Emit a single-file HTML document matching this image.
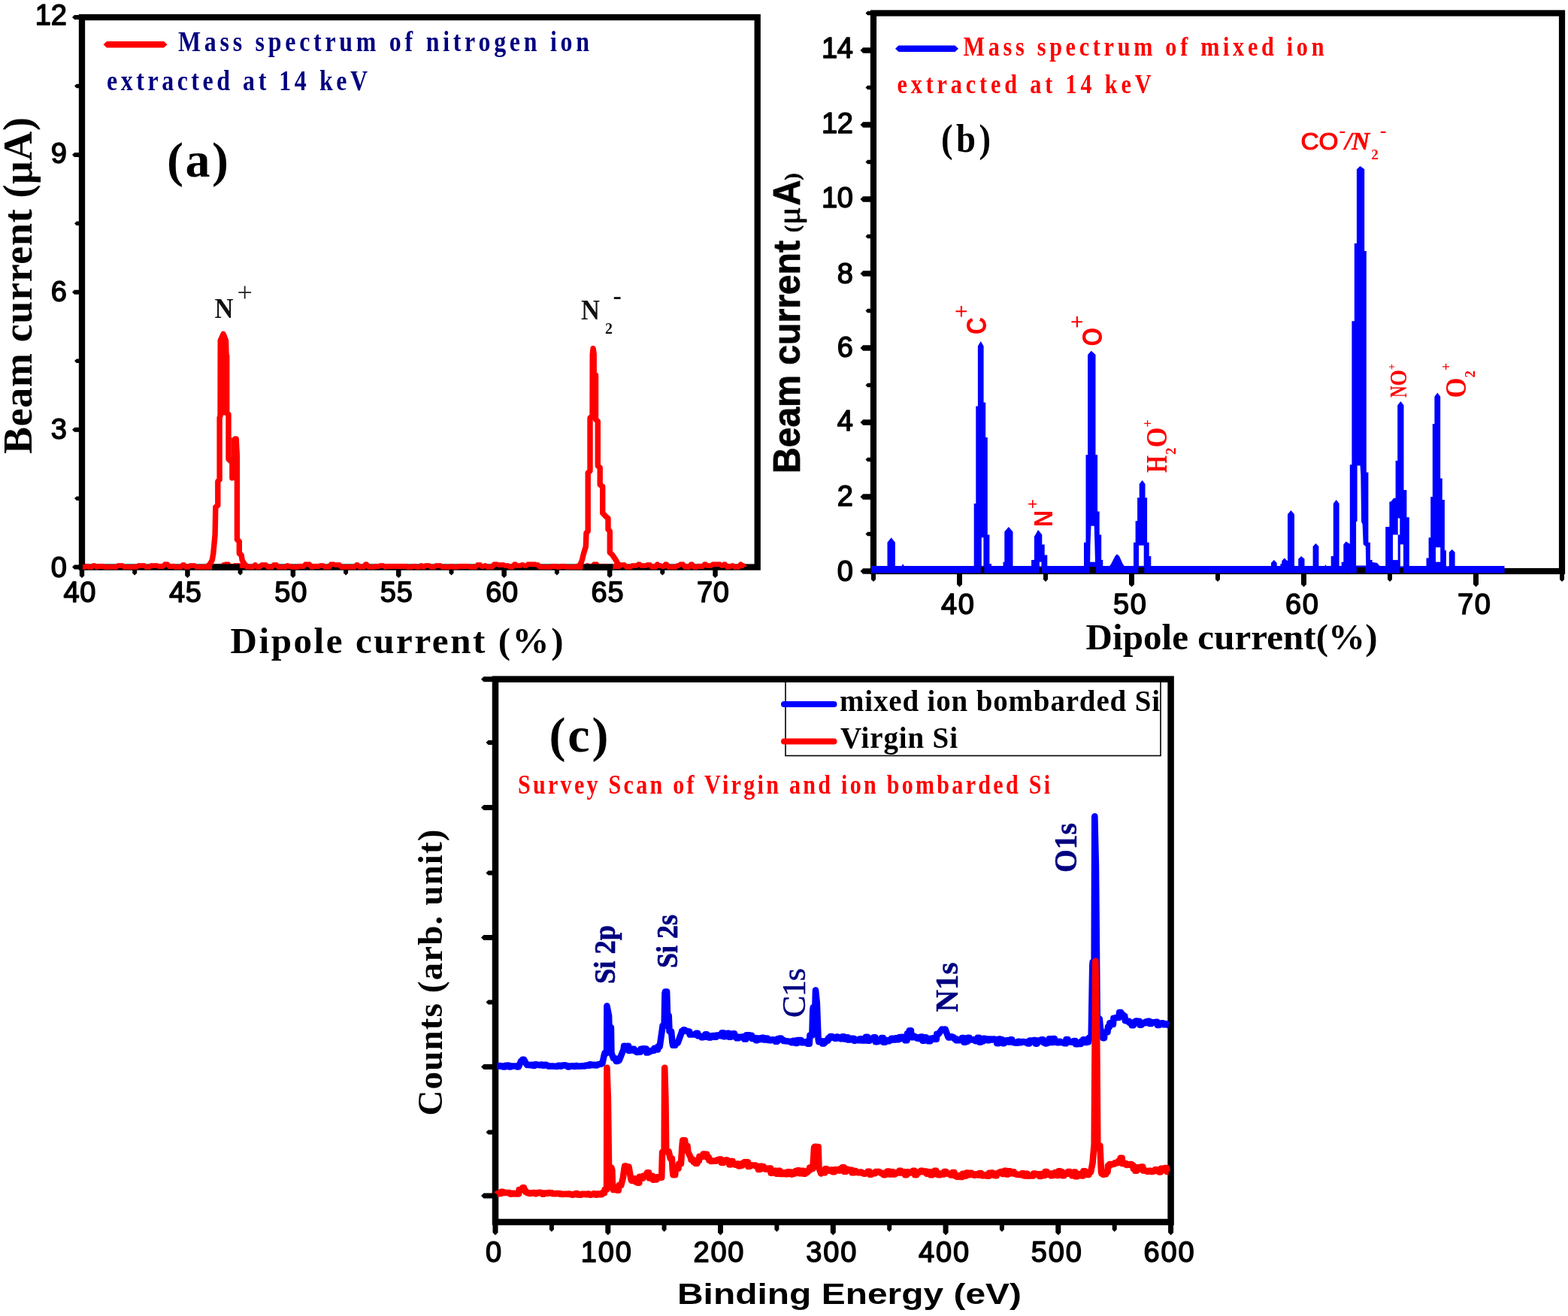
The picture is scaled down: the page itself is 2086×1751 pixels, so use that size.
<!DOCTYPE html>
<html lang="en"><head><meta charset="utf-8"><title>Mass spectra and XPS survey scan</title>
<style>html,body{margin:0;padding:0;background:#fff}svg{display:block}text{white-space:pre}</style></head>
<body>
<svg width="2086" height="1751" viewBox="0 0 2086 1751">
<rect x="0" y="0" width="2086" height="1751" fill="#fff"/>
<g id="panel-a">
<polygon points="109,751.6 99,751.6 96,754.6 99,757.6 109,757.6" fill="#000000"/>
<text x="89" y="768.1" font-family='"Liberation Sans","DejaVu Sans",sans-serif' font-size="38" font-weight="normal" fill="#000000" text-anchor="end" stroke="#000000" stroke-width="1.5" stroke-linejoin="round">0</text>
<polygon points="109,568.7 99,568.7 96,571.7 99,574.7 109,574.7" fill="#000000"/>
<text x="89" y="584.3" font-family='"Liberation Sans","DejaVu Sans",sans-serif' font-size="38" font-weight="normal" fill="#000000" text-anchor="end" stroke="#000000" stroke-width="1.5" stroke-linejoin="round">3</text>
<polygon points="109,385.8 99,385.8 96,388.8 99,391.8 109,391.8" fill="#000000"/>
<text x="89" y="400.5" font-family='"Liberation Sans","DejaVu Sans",sans-serif' font-size="38" font-weight="normal" fill="#000000" text-anchor="end" stroke="#000000" stroke-width="1.5" stroke-linejoin="round">6</text>
<polygon points="109,202.9 99,202.9 96,205.9 99,208.9 109,208.9" fill="#000000"/>
<text x="89" y="216.7" font-family='"Liberation Sans","DejaVu Sans",sans-serif' font-size="38" font-weight="normal" fill="#000000" text-anchor="end" stroke="#000000" stroke-width="1.5" stroke-linejoin="round">9</text>
<polygon points="109,20 99,20 96,23 99,26 109,26" fill="#000000"/>
<text x="89" y="32.9" font-family='"Liberation Sans","DejaVu Sans",sans-serif' font-size="38" font-weight="normal" fill="#000000" text-anchor="end" stroke="#000000" stroke-width="1.5" stroke-linejoin="round">12</text>
<polygon points="109,660.4 101.8,660.4 99,663.1 101.8,665.9 109,665.9" fill="#000000"/>
<polygon points="109,477.5 101.8,477.5 99,480.2 101.8,483 109,483" fill="#000000"/>
<polygon points="109,294.6 101.8,294.6 99,297.4 101.8,300.1 109,300.1" fill="#000000"/>
<polygon points="109,111.7 101.8,111.7 99,114.5 101.8,117.2 109,117.2" fill="#000000"/>
<polygon points="105.8,754.6 105.8,765.9 109,769.1 112.2,765.9 112.2,754.6" fill="#000000"/>
<text x="106" y="801" font-family='"Liberation Sans","DejaVu Sans",sans-serif' font-size="38" font-weight="normal" fill="#000000" text-anchor="middle" textLength="43" lengthAdjust="spacing" stroke="#000000" stroke-width="1.5" stroke-linejoin="round">40</text>
<polygon points="246.2,754.6 246.2,765.9 249.4,769.1 252.7,765.9 252.7,754.6" fill="#000000"/>
<text x="246.4" y="801" font-family='"Liberation Sans","DejaVu Sans",sans-serif' font-size="38" font-weight="normal" fill="#000000" text-anchor="middle" textLength="43" lengthAdjust="spacing" stroke="#000000" stroke-width="1.5" stroke-linejoin="round">45</text>
<polygon points="386.6,754.6 386.6,765.9 389.8,769.1 393.1,765.9 393.1,754.6" fill="#000000"/>
<text x="386.8" y="801" font-family='"Liberation Sans","DejaVu Sans",sans-serif' font-size="38" font-weight="normal" fill="#000000" text-anchor="middle" textLength="43" lengthAdjust="spacing" stroke="#000000" stroke-width="1.5" stroke-linejoin="round">50</text>
<polygon points="527,754.6 527,765.9 530.3,769.1 533.5,765.9 533.5,754.6" fill="#000000"/>
<text x="527.3" y="801" font-family='"Liberation Sans","DejaVu Sans",sans-serif' font-size="38" font-weight="normal" fill="#000000" text-anchor="middle" textLength="43" lengthAdjust="spacing" stroke="#000000" stroke-width="1.5" stroke-linejoin="round">55</text>
<polygon points="667.4,754.6 667.4,765.9 670.7,769.1 673.9,765.9 673.9,754.6" fill="#000000"/>
<text x="667.7" y="801" font-family='"Liberation Sans","DejaVu Sans",sans-serif' font-size="38" font-weight="normal" fill="#000000" text-anchor="middle" textLength="43" lengthAdjust="spacing" stroke="#000000" stroke-width="1.5" stroke-linejoin="round">60</text>
<polygon points="807.9,754.6 807.9,765.9 811.1,769.1 814.4,765.9 814.4,754.6" fill="#000000"/>
<text x="808.1" y="801" font-family='"Liberation Sans","DejaVu Sans",sans-serif' font-size="38" font-weight="normal" fill="#000000" text-anchor="middle" textLength="43" lengthAdjust="spacing" stroke="#000000" stroke-width="1.5" stroke-linejoin="round">65</text>
<polygon points="948.3,754.6 948.3,765.9 951.5,769.1 954.8,765.9 954.8,754.6" fill="#000000"/>
<text x="948.5" y="801" font-family='"Liberation Sans","DejaVu Sans",sans-serif' font-size="38" font-weight="normal" fill="#000000" text-anchor="middle" textLength="43" lengthAdjust="spacing" stroke="#000000" stroke-width="1.5" stroke-linejoin="round">70</text>
<polygon points="176.2,754.6 176.2,762.6 179.2,765.6 182.2,762.6 182.2,754.6" fill="#000000"/>
<polygon points="316.6,754.6 316.6,762.6 319.6,765.6 322.6,762.6 322.6,754.6" fill="#000000"/>
<polygon points="457.1,754.6 457.1,762.6 460.1,765.6 463.1,762.6 463.1,754.6" fill="#000000"/>
<polygon points="597.5,754.6 597.5,762.6 600.5,765.6 603.5,762.6 603.5,754.6" fill="#000000"/>
<polygon points="737.9,754.6 737.9,762.6 740.9,765.6 743.9,762.6 743.9,754.6" fill="#000000"/>
<polygon points="878.3,754.6 878.3,762.6 881.3,765.6 884.3,762.6 884.3,754.6" fill="#000000"/>
<rect x="109" y="23" width="898.7" height="731.6" fill="none" stroke="#000000" stroke-width="8.3"/>
<polyline points="110,754.3 110,754.3 114,754.3 114,753.5 117,753.5 117,754.3 120,754.3 120,754.3 123,754.3 123,752.7 127,752.7 127,754.3 130,754.3 130,753.5 138,753.5 138,754.3 142,754.3 142,754.3 150,754.3 150,754.3 153,754.3 153,754.3 156,754.3 156,752.7 164,752.7 164,754.3 168,754.3 168,754.3 172,754.3 172,754.3 180,754.3 180,754.3 183,754.3 183,752.7 189,752.7 189,752.7 193,752.7 193,754.3 197,754.3 197,754.3 200,754.3 200,752.7 203,752.7 203,752.7 206,752.7 206,752.7 210,752.7 210,753.5 218,753.5 218,750.9 224,750.9 224,753.5 232,753.5 232,754.3 238,754.3 238,754.3 242,754.3 242,751.7 246,751.7 246,754.3 252,754.3 252,752.7 260,752.7 260,754.3 268,754.3 268,754.3 271,754.3 271,754.3 279,754.3 279,754.3 285,754.3 285,754.3 293,754.3 293,753.5 296,753.5 296,751.7 299,751.7 299,750.9 305,750.9 305,754.3 311,754.3 311,752.7 319,752.7 319,752.7 327,752.7 327,754.3 330,754.3 330,754.3 338,754.3 338,751.7 341,751.7 341,754.3 347,754.3 347,751.7 355,751.7 355,754.3 363,754.3 363,751.7 369,751.7 369,754.3 377,754.3 377,754.3 381,754.3 381,752.7 384,752.7 384,753.5 387,753.5 387,754.3 393,754.3 393,754.3 397,754.3 397,753.5 405,753.5 405,750.9 413,750.9 413,754.3 417,754.3 417,753.5 425,753.5 425,752.7 431,752.7 431,754.3 439,754.3 439,750.9 445,750.9 445,751.7 453,751.7 453,754.3 461,754.3 461,754.3 465,754.3 465,754.3 469,754.3 469,754.3 473,754.3 473,751.7 477,751.7 477,754.3 485,754.3 485,750.9 489,750.9 489,754.3 495,754.3 495,754.3 499,754.3 499,753.5 505,753.5 505,752.7 511,752.7 511,754.3 514,754.3 514,753.5 522,753.5 522,753.5 530,753.5 530,753.5 533,753.5 533,753.5 541,753.5 541,754.3 545,754.3 545,754.3 549,754.3 549,753.5 553,753.5 553,754.3 559,754.3 559,752.7 562,752.7 562,754.3 565,754.3 565,752.7 569,752.7 569,752.7 572,752.7 572,754.3 575,754.3 575,754.3 579,754.3 579,752.7 587,752.7 587,754.3 593,754.3 593,754.3 599,754.3 599,753.5 602,753.5 602,754.3 610,754.3 610,753.5 618,753.5 618,753.5 624,753.5 624,754.3 628,754.3 628,754.3 634,754.3 634,751.7 640,751.7 640,753.5 644,753.5 644,752.7 647,752.7 647,754.3 653,754.3 653,754.3 656,754.3 656,750.9 662,750.9 662,751.7 665,751.7 665,751.7 671,751.7 671,752.7 677,752.7 677,754.3 683,754.3 683,750.9 687,750.9 687,752.7 693,752.7 693,751.7 697,751.7 697,752.7 701,752.7 701,750.9 705,750.9 705,750.9 713,750.9 713,751.7 717,751.7 717,754.3 725,754.3 725,754.3 728,754.3 728,754.3 734,754.3 734,753.5 740,753.5 740,754.3 746,754.3 746,753.5 752,753.5 752,754.3 755,754.3 755,754.3 758,754.3 758,754.3 766,754.3 766,754.3 772,754.3 772,754.3 780,754.3 780,752.7 783,752.7 783,753.5 789,753.5 789,750.9 792,750.9 792,750.9 795,750.9 795,753.5 799,753.5 799,753.5 803,753.5 803,753.5 809,753.5 809,754.3 817,754.3 817,753.5 825,753.5 825,751.7 828,751.7 828,751.7 832,751.7 832,754.3 836,754.3 836,754.3 840,754.3 840,752.7 848,752.7 848,750.9 852,750.9 852,752.7 860,752.7 860,751.7 866,751.7 866,754.3 870,754.3 870,754.3 873,754.3 873,750.9 876,750.9 876,752.7 880,752.7 880,753.5 884,753.5 884,750.9 888,750.9 888,754.3 894,754.3 894,754.3 900,754.3 900,752.7 904,752.7 904,750.9 910,750.9 910,754.3 918,754.3 918,750.9 922,750.9 922,754.3 928,754.3 928,753.5 936,753.5 936,750.9 940,750.9 940,752.7 944,752.7 944,752.7 947,752.7 947,750.9 955,750.9 955,750.9 959,750.9 959,752.7 962,752.7 962,750.9 966,750.9 966,754.3 970,754.3 970,753.5 973,753.5 973,752.7 976,752.7 976,754.3 984,754.3 984,750.9 987,750.9 987,752.7 990,752.7 990,754.3" fill="none" stroke="#ff0000" stroke-width="6.8" stroke-linejoin="bevel" stroke-linecap="butt"/>
<line x1="282.2" y1="754.6" x2="318.8" y2="754.6" stroke="#000000" stroke-width="8.3" stroke-linecap="butt"/>
<line x1="775.4" y1="754.6" x2="815.4" y2="754.6" stroke="#000000" stroke-width="8.3" stroke-linecap="butt"/>
<polyline points="274.3,754.7 278.8,751.3 282.2,745.5 283.8,736.4 286.1,711.3 286.8,674.7 289.8,672.4 289.8,640.5 292.1,638.2 292.1,555.9 293,553.6 293.2,453.1 297.1,444.4 300.5,453.1 301,471.4 301.7,473.7 301.7,549.1 304,551.4 304,610.8 307.4,614.2 309,615.3 309,635.9 311.5,608.5 313.1,584 314.2,584 315.4,608.5 315.4,718.1 318.3,720.4 318.3,736.4 321.1,738.7 322.2,745.5 325.7,751.3 330.2,754.7" fill="none" stroke="#ff0000" stroke-width="7.4" stroke-linejoin="round" stroke-linecap="butt"/>
<polygon points="307.4,582.2 317,582.2 318.8,608.5 318.8,638.2 305.6,638.2 305.6,614.2 307.4,610.8" fill="#ff0000"/>
<polyline points="297.1,448.5 297.6,552.5" fill="none" stroke="#ff0000" stroke-width="7.4" stroke-linejoin="round" stroke-linecap="butt"/>
<polyline points="767.4,754.7 772,751.3 774.3,745.5 776.5,736.4 779.3,727.3 780,709 782.2,706.7 782.2,629 785,626.7 785,555.9 788,553.6 788.2,471.4 789.1,463.6 790.2,471.4 790.2,496.5 792.5,498.8 792.5,558.2 795.3,560.5 795.3,619.9 798.2,622.2 798.2,645 801.7,647.3 801.7,682.7 806.2,687.3 809,689.6 809,704.4 811.3,706.7 811.3,735.3 814.2,737.6 818.8,744.4 822.7,751.3 826.8,754.7" fill="none" stroke="#ff0000" stroke-width="7.4" stroke-linejoin="round" stroke-linecap="butt"/>
<polygon points="137.5,59.3 142,55 218,55 222.5,59.3 218,63.6 142,63.6" fill="#ff0000"/>
<text transform="translate(237,68) scale(0.840,1)" font-family='"Liberation Serif","DejaVu Serif",serif' font-size="38" font-weight="bold" fill="#000080" text-anchor="start" textLength="651.2" lengthAdjust="spacing">Mass spectrum of nitrogen ion</text>
<text transform="translate(142,119.7) scale(0.840,1)" font-family='"Liberation Serif","DejaVu Serif",serif' font-size="38" font-weight="bold" fill="#000080" text-anchor="start" textLength="413.1" lengthAdjust="spacing">extracted at 14 keV</text>
<text x="222" y="234.5" font-family='"Liberation Serif","DejaVu Serif",serif' font-size="66" font-weight="bold" fill="#000000" text-anchor="start" textLength="82" lengthAdjust="spacing">(a)</text>
<text x="285.5" y="423.3" font-family='"Liberation Serif","DejaVu Serif",serif' font-size="38" font-weight="bold" fill="#111" text-anchor="start" textLength="25" lengthAdjust="spacingAndGlyphs">N</text>
<text x="315.5" y="401" font-family='"Liberation Serif","DejaVu Serif",serif' font-size="36" font-weight="normal" fill="#222" text-anchor="start">+</text>
<text x="773" y="425" font-family='"Liberation Serif","DejaVu Serif",serif' font-size="38" font-weight="bold" fill="#111" text-anchor="start" textLength="25" lengthAdjust="spacingAndGlyphs">N</text>
<text x="805" y="443.5" font-family='"Liberation Serif","DejaVu Serif",serif' font-size="20" font-weight="bold" fill="#111" text-anchor="start">2</text>
<text x="815.5" y="405" font-family='"Liberation Serif","DejaVu Serif",serif' font-size="34" font-weight="bold" fill="#111" text-anchor="start">-</text>
<text transform="translate(41.5,604) rotate(-90)" font-family='"Liberation Serif","DejaVu Serif",serif' font-size="54" font-weight="bold" fill="#000000" text-anchor="start" textLength="448" lengthAdjust="spacing">Beam current (μA)</text>
<text x="306.5" y="869" font-family='"Liberation Serif","DejaVu Serif",serif' font-size="49" font-weight="bold" fill="#000000" text-anchor="start" textLength="443" lengthAdjust="spacing">Dipole current (%)</text>
</g>
<g id="panel-b">
<polygon points="1162,756.2 1148.2,756.2 1144.5,760 1148.2,763.8 1162,763.8" fill="#000000"/>
<text x="1135" y="772.8" font-family='"Liberation Sans","DejaVu Sans",sans-serif' font-size="38" font-weight="normal" fill="#000000" text-anchor="end" stroke="#000000" stroke-width="1.5" stroke-linejoin="round">0</text>
<polygon points="1162,657.2 1148.2,657.2 1144.5,661 1148.2,664.8 1162,664.8" fill="#000000"/>
<text x="1135" y="673.3" font-family='"Liberation Sans","DejaVu Sans",sans-serif' font-size="38" font-weight="normal" fill="#000000" text-anchor="end" stroke="#000000" stroke-width="1.5" stroke-linejoin="round">2</text>
<polygon points="1162,558.2 1148.2,558.2 1144.5,562 1148.2,565.8 1162,565.8" fill="#000000"/>
<text x="1135" y="572.8" font-family='"Liberation Sans","DejaVu Sans",sans-serif' font-size="38" font-weight="normal" fill="#000000" text-anchor="end" stroke="#000000" stroke-width="1.5" stroke-linejoin="round">4</text>
<polygon points="1162,459.2 1148.2,459.2 1144.5,463 1148.2,466.8 1162,466.8" fill="#000000"/>
<text x="1135" y="475.3" font-family='"Liberation Sans","DejaVu Sans",sans-serif' font-size="38" font-weight="normal" fill="#000000" text-anchor="end" stroke="#000000" stroke-width="1.5" stroke-linejoin="round">6</text>
<polygon points="1162,360.2 1148.2,360.2 1144.5,364 1148.2,367.8 1162,367.8" fill="#000000"/>
<text x="1135" y="376.8" font-family='"Liberation Sans","DejaVu Sans",sans-serif' font-size="38" font-weight="normal" fill="#000000" text-anchor="end" stroke="#000000" stroke-width="1.5" stroke-linejoin="round">8</text>
<polygon points="1162,261.2 1148.2,261.2 1144.5,265 1148.2,268.8 1162,268.8" fill="#000000"/>
<text x="1135" y="275.8" font-family='"Liberation Sans","DejaVu Sans",sans-serif' font-size="38" font-weight="normal" fill="#000000" text-anchor="end" textLength="42" lengthAdjust="spacing" stroke="#000000" stroke-width="1.5" stroke-linejoin="round">10</text>
<polygon points="1162,162.2 1148.2,162.2 1144.5,166 1148.2,169.8 1162,169.8" fill="#000000"/>
<text x="1135" y="177.3" font-family='"Liberation Sans","DejaVu Sans",sans-serif' font-size="38" font-weight="normal" fill="#000000" text-anchor="end" textLength="42" lengthAdjust="spacing" stroke="#000000" stroke-width="1.5" stroke-linejoin="round">12</text>
<polygon points="1162,63.2 1148.2,63.2 1144.5,67 1148.2,70.8 1162,70.8" fill="#000000"/>
<text x="1135" y="76.8" font-family='"Liberation Sans","DejaVu Sans",sans-serif' font-size="38" font-weight="normal" fill="#000000" text-anchor="end" textLength="42" lengthAdjust="spacing" stroke="#000000" stroke-width="1.5" stroke-linejoin="round">14</text>
<polygon points="1162,707.8 1154.2,707.8 1151.5,710.5 1154.2,713.2 1162,713.2" fill="#000000"/>
<polygon points="1162,608.8 1154.2,608.8 1151.5,611.5 1154.2,614.2 1162,614.2" fill="#000000"/>
<polygon points="1162,509.8 1154.2,509.8 1151.5,512.5 1154.2,515.2 1162,515.2" fill="#000000"/>
<polygon points="1162,410.8 1154.2,410.8 1151.5,413.5 1154.2,416.2 1162,416.2" fill="#000000"/>
<polygon points="1162,311.8 1154.2,311.8 1151.5,314.5 1154.2,317.2 1162,317.2" fill="#000000"/>
<polygon points="1162,212.8 1154.2,212.8 1151.5,215.5 1154.2,218.2 1162,218.2" fill="#000000"/>
<polygon points="1162,113.8 1154.2,113.8 1151.5,116.5 1154.2,119.2 1162,119.2" fill="#000000"/>
<polygon points="1162,14.8 1154.2,14.8 1151.5,17.5 1154.2,20.2 1162,20.2" fill="#000000"/>
<polygon points="1273,760 1273,777.5 1276.5,781 1280,777.5 1280,760" fill="#000000"/>
<text x="1274" y="816.5" font-family='"Liberation Sans","DejaVu Sans",sans-serif' font-size="38" font-weight="normal" fill="#000000" text-anchor="middle" textLength="44" lengthAdjust="spacing" stroke="#000000" stroke-width="1.5" stroke-linejoin="round">40</text>
<polygon points="1502,760 1502,777.5 1505.5,781 1509,777.5 1509,760" fill="#000000"/>
<text x="1503" y="816.5" font-family='"Liberation Sans","DejaVu Sans",sans-serif' font-size="38" font-weight="normal" fill="#000000" text-anchor="middle" textLength="44" lengthAdjust="spacing" stroke="#000000" stroke-width="1.5" stroke-linejoin="round">50</text>
<polygon points="1731,760 1731,777.5 1734.5,781 1738,777.5 1738,760" fill="#000000"/>
<text x="1732" y="816.5" font-family='"Liberation Sans","DejaVu Sans",sans-serif' font-size="38" font-weight="normal" fill="#000000" text-anchor="middle" textLength="44" lengthAdjust="spacing" stroke="#000000" stroke-width="1.5" stroke-linejoin="round">60</text>
<polygon points="1960,760 1960,777.5 1963.5,781 1967,777.5 1967,760" fill="#000000"/>
<text x="1961" y="816.5" font-family='"Liberation Sans","DejaVu Sans",sans-serif' font-size="38" font-weight="normal" fill="#000000" text-anchor="middle" textLength="44" lengthAdjust="spacing" stroke="#000000" stroke-width="1.5" stroke-linejoin="round">70</text>
<polygon points="1159,760 1159,771 1162,774 1165,771 1165,760" fill="#000000"/>
<polygon points="1388,760 1388,771 1391,774 1394,771 1394,760" fill="#000000"/>
<polygon points="1617,760 1617,771 1620,774 1623,771 1623,760" fill="#000000"/>
<polygon points="1846,760 1846,771 1849,774 1852,771 1852,760" fill="#000000"/>
<polygon points="2075,760 2075,771 2078,774 2081,771 2081,760" fill="#000000"/>
<rect x="1162" y="17.5" width="916" height="742.5" fill="none" stroke="#000000" stroke-width="8.2"/>
<line x1="1159" y1="757.7" x2="2001.5" y2="757.7" stroke="#0000ff" stroke-width="9.6" stroke-linecap="butt"/>
<polygon points="1180.5,759.3 1180.5,721.8 1185.7,715.3 1190.9,721.8 1190.9,759.3" fill="#0000ff"/>
<polygon points="1196,759.3 1201.2,750.3 1206.4,759.3" fill="#0000ff"/>
<polygon points="1295.7,759.3 1295.7,670 1298.3,670 1298.3,540.6 1300.9,540.6 1300.9,460.4 1304.8,453.9 1308.6,460.4 1308.6,535.4 1311.2,535.4 1311.2,582 1313.8,582 1313.8,711.5 1316.4,711.5 1316.4,750.3 1319,750.3 1319,759.3" fill="#0000ff"/>
<polygon points="1334.5,759.3 1334.5,747.7 1336.3,747.7 1336.3,707.6 1341.8,701.1 1347.5,707.6 1347.5,759.3" fill="#0000ff"/>
<polygon points="1372.1,759.3 1372.1,745.1 1375.9,745.1 1375.9,714 1381.1,705 1386.3,711.5 1386.3,724.4 1389.7,724.4 1389.7,738.6 1393.3,738.6 1393.3,759.3" fill="#0000ff"/>
<polygon points="1442,759.3 1442,721.8 1444.5,721.8 1444.5,605.3 1447.1,605.3 1447.1,472 1451.8,466.8 1457.5,472 1457.5,605.3 1460.1,605.3 1460.1,680.4 1462.7,680.4 1462.7,711.5 1465.2,711.5 1465.2,745.1 1467.3,745.1 1467.3,759.3" fill="#0000ff"/>
<polygon points="1471.7,759.3 1478.2,750.3 1483.4,739.9 1486,737.3 1489.1,739.9 1493.7,750.3 1500.2,759.3" fill="#0000ff"/>
<polygon points="1508,759.3 1508,721.8 1510.6,721.8 1510.6,693.3 1513.1,693.3 1513.1,662.3 1515.7,662.3 1515.7,644.1 1519.6,639 1523.5,644.1 1523.5,662.3 1526.1,662.3 1526.1,721.8 1528.7,721.8 1528.7,739.9 1531.3,739.9 1531.3,759.3" fill="#0000ff"/>
<polygon points="1542.9,759.3 1546.8,753.4 1550.7,759.3" fill="#0000ff"/>
<polygon points="1609.4,759.3 1612,754.9 1614.6,759.3" fill="#0000ff"/>
<polygon points="1672.8,759.3 1675.4,754.4 1678,759.3" fill="#0000ff"/>
<polygon points="1759.8,759.3 1763.4,751.1 1767.1,759.3" fill="#0000ff"/>
<polygon points="1877.9,759.3 1879.9,754.4 1882,759.3" fill="#0000ff"/>
<polygon points="1883,759.3 1885.1,754.4 1887.2,759.3" fill="#0000ff"/>
<polygon points="1941.5,759.3 1944.7,753.9 1947.8,759.3" fill="#0000ff"/>
<polygon points="1987.6,759.3 1991.2,755.5 1994.9,759.3" fill="#0000ff"/>
<polygon points="1691,759.3 1691,749 1694.8,745.1 1698.7,749 1698.7,759.3" fill="#0000ff"/>
<polygon points="1703.4,759.3 1703.4,750.3 1705.2,750.3 1705.2,746.4 1708.6,742.5 1713,746.4 1713,759.3" fill="#0000ff"/>
<polygon points="1713,759.3 1713,684.3 1717.4,679.1 1722,684.3 1722,759.3" fill="#0000ff"/>
<polygon points="1727.2,759.3 1727.2,743.8 1731.1,739.9 1735.5,743.8 1735.5,759.3" fill="#0000ff"/>
<polygon points="1746.6,759.3 1746.6,727 1750.5,723.1 1754.4,727 1754.4,759.3" fill="#0000ff"/>
<polygon points="1770.7,759.3 1770.7,739.9 1773.8,739.9 1773.8,670 1777.7,664.9 1781.6,670 1781.6,759.3" fill="#0000ff"/>
<polygon points="1784.7,759.3 1784.7,747.7 1787.3,747.7 1787.3,724.4 1790.6,720.5 1797.1,724.4 1797.1,759.3" fill="#0000ff"/>
<polygon points="1795.8,759.3 1795.8,618.3 1798.4,618.3 1798.4,427.2 1801.8,427.2 1801.8,323.7 1804.9,323.7 1804.9,225.3 1809.5,220.9 1815.2,225.3 1815.2,334 1817.8,334 1817.8,628.6 1820.4,628.6 1820.4,701.1 1820.4,701.1 1820.4,721.8 1823,721.8 1823,745.1 1825.6,745.1 1825.6,759.3" fill="#0000ff"/>
<polygon points="1824.3,759.3 1824.3,747.7 1832,749 1841.1,759.3" fill="#0000ff"/>
<polygon points="1843.2,759.3 1843.2,701.1 1848.4,701.1 1848.4,667.4 1856.6,667.4 1856.6,613.1 1859.2,613.1 1859.2,539.3 1863.4,534.1 1867.5,539.3 1867.5,651.9 1871.4,651.9 1871.4,688.2 1874.8,688.2 1874.8,759.3" fill="#0000ff"/>
<polygon points="1848.4,670 1854.1,662.8 1857.9,662.8 1857.9,672.6" fill="#0000ff"/>
<polygon points="1897.5,759.3 1897.5,742.5 1900.6,742.5 1900.6,715.3 1903.2,715.3 1903.2,661 1905.8,661 1905.8,563.9 1908.4,563.9 1908.4,527.7 1912.3,522.5 1916.2,527.7 1916.2,636.4 1918.8,636.4 1918.8,664.9 1921.9,664.9 1921.9,732.2 1923.9,732.2 1923.9,759.3" fill="#0000ff"/>
<polygon points="1927.8,759.3 1927.8,734.8 1931.7,730.9 1935.6,734.8 1935.6,759.3" fill="#0000ff"/>
<polygon points="1305.8,715.3 1308.4,715.3 1308.4,752.9 1305.8,752.9" fill="#fff"/>
<polygon points="1304.8,754.2 1309.4,754.2 1309.4,763.7 1304.8,763.7" fill="#000000"/>
<polygon points="1451.5,699.8 1455.7,699.8 1456.4,724.4 1457,747.7 1450.2,747.7 1450.5,724.4" fill="#fff"/>
<polygon points="1449.7,754.2 1458,754.2 1458,763.7 1449.7,763.7" fill="#000000"/>
<polygon points="1382.9,747.7 1385.5,747.7 1385.5,753.4 1382.9,753.4" fill="#fff"/>
<polygon points="1382.4,754.9 1386,754.9 1386,763.7 1382.4,763.7" fill="#000000"/>
<polygon points="1515,725.7 1521.7,725.7 1521.7,752.9 1515,752.9" fill="#fff"/>
<polygon points="1514.4,754.9 1522.2,754.9 1522.2,763.7 1514.4,763.7" fill="#000000"/>
<polygon points="1805.6,619.6 1809.5,619.6 1810.3,631.2 1811.1,694.6 1812.6,697.2 1813.7,724.4 1816.8,727 1817.3,752.4 1804.1,752.4 1804.1,694.6 1805.6,693.3" fill="#fff"/>
<polygon points="1804.9,754.9 1816.3,754.9 1816.3,763.7 1804.9,763.7" fill="#000000"/>
<polygon points="1859.7,689.5 1862.3,689.5 1862.3,711.5 1859.7,711.5" fill="#fff"/>
<polygon points="1853,711.5 1859.7,711.5 1859.7,745.1 1853,745.1" fill="#fff"/>
<polygon points="1862.9,724.4 1867,724.4 1867,753.4 1862.9,753.4" fill="#fff"/>
<polygon points="1862.3,755.5 1867,755.5 1867,763.7 1862.3,763.7" fill="#000000"/>
<polygon points="1910,728.3 1916.2,728.3 1916.2,747.7 1910,747.7" fill="#fff"/>
<polygon points="1924.5,747.7 1927.1,747.7 1927.1,753.4 1924.5,753.4" fill="#fff"/>
<polygon points="1191,64.7 1195.5,60.4 1270.5,60.4 1275,64.7 1270.5,69 1195.5,69" fill="#0000ff"/>
<text transform="translate(1281.5,73.8) scale(0.840,1)" font-family='"Liberation Serif","DejaVu Serif",serif' font-size="36" font-weight="bold" fill="#ff0000" text-anchor="start" textLength="571.4" lengthAdjust="spacing">Mass spectrum of mixed ion</text>
<text transform="translate(1193.5,124.3) scale(0.840,1)" font-family='"Liberation Serif","DejaVu Serif",serif' font-size="36" font-weight="bold" fill="#ff0000" text-anchor="start" textLength="402.4" lengthAdjust="spacing">extracted at 14 keV</text>
<text transform="translate(1252,201.5) scale(0.900,1)" font-family='"Liberation Serif","DejaVu Serif",serif' font-size="52" font-weight="bold" fill="#000000" text-anchor="start" textLength="73.3" lengthAdjust="spacing">(b)</text>
<text transform="translate(1311.5,445) rotate(-90)" fill="#ff0000"><tspan font-family='"Liberation Sans","DejaVu Sans",sans-serif' font-size="36" font-weight="bold" dx="0" dy="0" textLength="23" lengthAdjust="spacingAndGlyphs">C</tspan><tspan font-family='"Liberation Sans","DejaVu Sans",sans-serif' font-size="30" font-weight="normal" dx="-1" dy="-23">+</tspan></text>
<text transform="translate(1466,460.5) rotate(-90)" fill="#ff0000"><tspan font-family='"Liberation Sans","DejaVu Sans",sans-serif' font-size="36" font-weight="bold" dx="0" dy="0" textLength="24.5" lengthAdjust="spacingAndGlyphs">O</tspan><tspan font-family='"Liberation Sans","DejaVu Sans",sans-serif' font-size="30" font-weight="normal" dx="-1" dy="-23">+</tspan></text>
<text transform="translate(1400,701) rotate(-90)" fill="#ff0000"><tspan font-family='"Liberation Sans","DejaVu Sans",sans-serif' font-size="35" font-weight="bold" dx="0" dy="0" textLength="22" lengthAdjust="spacingAndGlyphs">N</tspan><tspan font-family='"Liberation Sans","DejaVu Sans",sans-serif' font-size="22" font-weight="normal" dx="2" dy="-19">+</tspan></text>
<text transform="translate(1551.5,629) rotate(-90)" fill="#ff0000"><tspan font-family='"Liberation Serif","DejaVu Serif",serif' font-size="39" font-weight="bold" dx="0" dy="0" textLength="23" lengthAdjust="spacingAndGlyphs">H</tspan><tspan font-family='"Liberation Serif","DejaVu Serif",serif' font-size="19" font-weight="bold" dx="1" dy="12">2</tspan><tspan font-family='"Liberation Serif","DejaVu Serif",serif' font-size="39" font-weight="bold" dx="0" dy="-12" textLength="27" lengthAdjust="spacingAndGlyphs">O</tspan><tspan font-family='"Liberation Serif","DejaVu Serif",serif' font-size="18" font-weight="bold" dx="0" dy="-19">+</tspan></text>
<text transform="translate(1871,529) rotate(-90)" fill="#ff0000"><tspan font-family='"Liberation Serif","DejaVu Serif",serif' font-size="31" font-weight="bold" dx="0" dy="0" textLength="15.5" lengthAdjust="spacingAndGlyphs">N</tspan><tspan font-family='"Liberation Serif","DejaVu Serif",serif' font-size="31" font-weight="bold" dx="0" dy="0" textLength="21.5" lengthAdjust="spacingAndGlyphs">O</tspan><tspan font-family='"Liberation Serif","DejaVu Serif",serif' font-size="14" font-weight="bold" dx="0" dy="-15">+</tspan></text>
<text transform="translate(1950,529.5) rotate(-90)" fill="#ff0000"><tspan font-family='"Liberation Serif","DejaVu Serif",serif' font-size="39" font-weight="bold" dx="0" dy="0" textLength="27" lengthAdjust="spacingAndGlyphs">O</tspan><tspan font-family='"Liberation Serif","DejaVu Serif",serif' font-size="19" font-weight="bold" dx="0" dy="12">2</tspan><tspan font-family='"Liberation Serif","DejaVu Serif",serif' font-size="18" font-weight="bold" dx="0" dy="-32">+</tspan></text>
<text x="1730.5" y="198.8" fill="#ff0000"><tspan font-family='"Liberation Sans","DejaVu Sans",sans-serif' font-size="32" font-weight="normal" stroke="#ff0000" stroke-width="1.1" textLength="50" lengthAdjust="spacingAndGlyphs">CO</tspan><tspan font-family='"Liberation Serif","DejaVu Serif",serif' font-size="26" font-weight="bold" dx="1" dy="-17">-</tspan><tspan font-family='"Liberation Serif","DejaVu Serif",serif' font-size="33" font-weight="bold" font-style="italic" dx="-1" dy="17" stroke="#ff0000" stroke-width="0.6">/N</tspan><tspan font-family='"Liberation Serif","DejaVu Serif",serif' font-size="19" font-weight="bold" dx="2" dy="13">2</tspan><tspan font-family='"Liberation Serif","DejaVu Serif",serif' font-size="26" font-weight="bold" dx="2" dy="-30">-</tspan></text>
<text transform="translate(1064.3,630) rotate(-90)" fill="#000" stroke="#000" stroke-width="0.8" stroke-linejoin="round"><tspan font-family='"Liberation Sans","DejaVu Sans",sans-serif' font-size="50" font-weight="bold" textLength="310" lengthAdjust="spacingAndGlyphs">Beam current</tspan><tspan font-family='"Liberation Serif","DejaVu Serif",serif' font-size="27" font-weight="bold" dx="11" dy="-1">(</tspan><tspan font-family='"Liberation Serif","DejaVu Serif",serif' font-size="44" font-weight="normal" dx="1" dy="1">μ</tspan><tspan font-family='"Liberation Sans","DejaVu Sans",sans-serif' font-size="50" font-weight="bold" dx="2" textLength="34" lengthAdjust="spacingAndGlyphs">A</tspan><tspan font-family='"Liberation Serif","DejaVu Serif",serif' font-size="27" font-weight="bold" dx="0" dy="-1">)</tspan></text>
<text x="1444.5" y="864" font-family='"Liberation Serif","DejaVu Serif",serif' font-size="49" font-weight="bold" fill="#000000" text-anchor="start" textLength="388" lengthAdjust="spacing">Dipole current(%)</text>
</g>
<g id="panel-c">
<polygon points="659,900.2 643.5,900.2 640,903.7 643.5,907.2 659,907.2" fill="#000000"/>
<polygon points="659,1071.1 643.5,1071.1 640,1074.6 643.5,1078.1 659,1078.1" fill="#000000"/>
<polygon points="659,1243.9 643.5,1243.9 640,1247.4 643.5,1250.9 659,1250.9" fill="#000000"/>
<polygon points="659,1416 643.5,1416 640,1419.5 643.5,1423 659,1423" fill="#000000"/>
<polygon points="659,1587.5 643.5,1587.5 640,1591 643.5,1594.5 659,1594.5" fill="#000000"/>
<polygon points="659,985 649.5,985 646.5,988 649.5,991 659,991" fill="#000000"/>
<polygon points="659,1158.5 649.5,1158.5 646.5,1161.5 649.5,1164.5 659,1164.5" fill="#000000"/>
<polygon points="659,1330.5 649.5,1330.5 646.5,1333.5 649.5,1336.5 659,1336.5" fill="#000000"/>
<polygon points="659,1503.5 649.5,1503.5 646.5,1506.5 649.5,1509.5 659,1509.5" fill="#000000"/>
<polygon points="655.5,1626 655.5,1640 659,1643.5 662.5,1640 662.5,1626" fill="#000000"/>
<text x="656.5" y="1679" font-family='"Liberation Sans","DejaVu Sans",sans-serif' font-size="38" font-weight="normal" fill="#000000" text-anchor="middle" stroke="#000000" stroke-width="1.5" stroke-linejoin="round">0</text>
<polygon points="805.3,1626 805.3,1640 808.8,1643.5 812.3,1640 812.3,1626" fill="#000000"/>
<text x="806.3" y="1679" font-family='"Liberation Sans","DejaVu Sans",sans-serif' font-size="38" font-weight="normal" fill="#000000" text-anchor="middle" textLength="67" lengthAdjust="spacing" stroke="#000000" stroke-width="1.5" stroke-linejoin="round">100</text>
<polygon points="955,1626 955,1640 958.5,1643.5 962,1640 962,1626" fill="#000000"/>
<text x="956" y="1679" font-family='"Liberation Sans","DejaVu Sans",sans-serif' font-size="38" font-weight="normal" fill="#000000" text-anchor="middle" textLength="67" lengthAdjust="spacing" stroke="#000000" stroke-width="1.5" stroke-linejoin="round">200</text>
<polygon points="1104.8,1626 1104.8,1640 1108.3,1643.5 1111.8,1640 1111.8,1626" fill="#000000"/>
<text x="1105.8" y="1679" font-family='"Liberation Sans","DejaVu Sans",sans-serif' font-size="38" font-weight="normal" fill="#000000" text-anchor="middle" textLength="67" lengthAdjust="spacing" stroke="#000000" stroke-width="1.5" stroke-linejoin="round">300</text>
<polygon points="1254.6,1626 1254.6,1640 1258.1,1643.5 1261.6,1640 1261.6,1626" fill="#000000"/>
<text x="1255.6" y="1679" font-family='"Liberation Sans","DejaVu Sans",sans-serif' font-size="38" font-weight="normal" fill="#000000" text-anchor="middle" textLength="67" lengthAdjust="spacing" stroke="#000000" stroke-width="1.5" stroke-linejoin="round">400</text>
<polygon points="1404.3,1626 1404.3,1640 1407.8,1643.5 1411.3,1640 1411.3,1626" fill="#000000"/>
<text x="1405.3" y="1679" font-family='"Liberation Sans","DejaVu Sans",sans-serif' font-size="38" font-weight="normal" fill="#000000" text-anchor="middle" textLength="67" lengthAdjust="spacing" stroke="#000000" stroke-width="1.5" stroke-linejoin="round">500</text>
<polygon points="1554.1,1626 1554.1,1640 1557.6,1643.5 1561.1,1640 1561.1,1626" fill="#000000"/>
<text x="1555.1" y="1679" font-family='"Liberation Sans","DejaVu Sans",sans-serif' font-size="38" font-weight="normal" fill="#000000" text-anchor="middle" textLength="67" lengthAdjust="spacing" stroke="#000000" stroke-width="1.5" stroke-linejoin="round">600</text>
<polygon points="730.9,1626 730.9,1636 733.9,1639 736.9,1636 736.9,1626" fill="#000000"/>
<polygon points="880.6,1626 880.6,1636 883.6,1639 886.6,1636 886.6,1626" fill="#000000"/>
<polygon points="1030.4,1626 1030.4,1636 1033.4,1639 1036.4,1636 1036.4,1626" fill="#000000"/>
<polygon points="1180.2,1626 1180.2,1636 1183.2,1639 1186.2,1636 1186.2,1626" fill="#000000"/>
<polygon points="1329.9,1626 1329.9,1636 1332.9,1639 1335.9,1636 1335.9,1626" fill="#000000"/>
<polygon points="1479.7,1626 1479.7,1636 1482.7,1639 1485.7,1636 1485.7,1626" fill="#000000"/>
<rect x="659" y="903.7" width="898.6" height="722.3" fill="none" stroke="#000000" stroke-width="8.5"/>
<polyline points="661,1418.5 661.5,1418.5 663.6,1418.5 664.2,1418.1 666.3,1418.1 666.8,1418.9 668.9,1418.9 669.4,1419.5 671.5,1419.5 672.1,1417.8 674.2,1417.8 674.7,1417.5 676.8,1417.5 677.3,1419.5 679.5,1419.5 680,1418.5 682.1,1418.5 682.6,1418.5 684.7,1418.5 685.3,1418.5 687.4,1418.5 687.9,1419.5 690,1419.5 693,1412 693.4,1411.5 695,1411.5 695.4,1409.7 697,1409.7 701,1417 701.5,1416.7 703.6,1416.7 704.1,1417.1 706.1,1417.1 706.6,1416.8 708.7,1416.8 709.2,1417.9 711.3,1417.9 711.8,1416.3 713.8,1416.3 714.3,1416.7 716.4,1416.7 716.9,1417.1 719,1417.1 719.5,1416.5 721.5,1416.5 722,1417.6 724.1,1417.6 724.6,1416.7 726.7,1416.7 727.2,1417.7 729.2,1417.7 729.7,1418.8 731.8,1418.8 732.3,1418.5 734.3,1418.5 734.9,1418.6 736.9,1418.6 737.4,1418.7 739.5,1418.7 740,1419 742,1419 742.6,1417.7 744.6,1417.7 745.1,1418.6 747.2,1418.6 747.7,1417.6 749.7,1417.6 750.3,1417.3 752.3,1417.3 752.8,1418 754.9,1418 755.4,1419.4 757.4,1419.4 757.9,1418.5 760,1418.5 760.5,1418.4 762.7,1418.4 763.2,1419 765.3,1419 765.8,1418.1 768,1418.1 768.5,1418.7 770.6,1418.7 771.1,1418.6 773.3,1418.6 773.8,1418.2 775.9,1418.2 776.4,1418.4 778.6,1418.4 779.1,1417.6 781.2,1417.6 781.8,1417.8 783.9,1417.8 784.4,1416.3 786.5,1416.3 787.1,1417.2 789.2,1417.2 789.7,1416.7 791.8,1416.7 792.4,1417.4 794.5,1417.4 795,1416.2 797.1,1416.2 797.6,1415.8 799.3,1415.8 799.7,1414.8 801.4,1414.8 804,1402.8 804.6,1401.1 807.1,1401.1 807.4,1338.6 810,1351.4 810.5,1367.7 811,1367.4 812.9,1367.4 813.4,1401.1 816,1408 816.7,1408.6 819.4,1408.6 819.8,1412 821.6,1412 822,1410.8 823.7,1410.8 829.7,1396 830.1,1391.9 831.8,1391.9 832.3,1392.8 834,1392.8 834.4,1391.9 836.1,1391.9 836.5,1397.9 838.3,1397.9 838.8,1396.1 840.8,1396.1 841.3,1395.7 843.4,1395.7 844,1398.2 846.3,1398.2 846.8,1399.9 849.1,1399.9 849.7,1399.6 852,1399.6 852.5,1395.9 854.5,1395.9 855.1,1395.3 857.1,1395.3 857.6,1395.5 859.7,1395.5 860.2,1400.5 862.2,1400.5 862.8,1399.4 864.8,1399.4 865.3,1398.1 867.4,1398.1 867.9,1397.9 870,1397.9 870.5,1394.9 872.5,1394.9 873,1396.4 875.1,1396.4 875.6,1392.3 877.7,1392.3 881.1,1368.5 881.6,1364.9 883.7,1364.9 884.5,1321.4 885,1319.5 887.1,1319.5 888,1349.7 889.7,1351.4 890.5,1372 891,1372.6 893.1,1372.6 894.5,1387.4 895.2,1390.8 898.2,1390.8 898.9,1387.6 901.7,1387.6 906.8,1373.7 907.2,1372 908.9,1372 909.4,1370.3 911.1,1370.3 911.7,1371.7 914.1,1371.7 914.7,1372.6 917.1,1372.6 917.7,1376.5 919.9,1376.5 920.5,1376.5 922.8,1376.5 923.4,1376.5 925.6,1376.5 926.1,1374.8 928.1,1374.8 928.6,1378.3 930.5,1378.3 931,1378.8 933,1378.8 933.5,1380.2 935.4,1380.2 935.9,1379.8 937.9,1379.8 938.4,1376.4 940.3,1376.4 940.8,1378.8 942.8,1378.8 943.3,1380.5 945.2,1380.5 945.7,1378.3 947.7,1378.3 948.2,1378.1 950.1,1378.1 950.6,1379.8 952.6,1379.8 953.1,1377.6 955,1377.6 955.5,1377.4 957.5,1377.4 958,1378.2 959.9,1378.2 960.4,1374.4 962.4,1374.4 962.9,1379.3 964.8,1379.3 965.3,1378.6 967.3,1378.6 967.8,1374.8 969.7,1374.8 970.2,1379.7 972.2,1379.7 972.6,1376.7 974.6,1376.7 975.1,1375.2 977.1,1375.2 977.6,1379.4 979.6,1379.4 980.1,1381.3 982.2,1381.3 982.7,1379.9 984.7,1379.9 985.2,1380.2 987.3,1380.2 987.8,1379.4 989.8,1379.4 990.3,1382.5 992.4,1382.5 992.9,1377.2 994.9,1377.2 995.4,1377.4 997.5,1377.4 998,1377.7 1000,1377.7 1000.5,1381.9 1002.6,1381.9 1003.1,1381 1005.2,1381 1005.8,1384.1 1007.8,1384.1 1008.4,1381.6 1010.4,1381.6 1011,1382.9 1013.1,1382.9 1013.6,1380.9 1015.7,1380.9 1016.2,1383.4 1018.3,1383.4 1018.8,1381.5 1020.9,1381.5 1021.4,1384 1023.5,1384 1024,1384.2 1026.1,1384.2 1026.6,1383.4 1028.7,1383.4 1029.2,1383.6 1031.3,1383.6 1031.8,1385.8 1033.9,1385.8 1034.5,1382.2 1036.5,1382.2 1037.1,1381.6 1039.2,1381.6 1039.7,1383.5 1041.8,1383.5 1042.3,1384.9 1044.4,1384.9 1044.9,1385.2 1047,1385.2 1047.5,1385.5 1049.6,1385.5 1050.1,1385.7 1052.2,1385.7 1052.7,1387.1 1054.8,1387.1 1055.4,1384.9 1057.6,1384.9 1058.1,1387.9 1060.3,1387.9 1060.8,1384 1063,1384 1063.6,1384 1065.8,1384 1066.3,1387.1 1068.5,1387.1 1069.1,1387.1 1071.3,1387.1 1071.8,1386 1074,1386 1074.5,1388.8 1076.7,1388.8 1077.5,1377.5 1080.4,1377.5 1081.3,1344 1081.9,1340.2 1084.4,1340.2 1085,1317.5 1086.8,1334.8 1088.6,1382.3 1089.2,1386.2 1091.4,1386.2 1091.8,1385.4 1093.8,1385.4 1094.3,1388.5 1096.2,1388.5 1096.7,1386 1098.7,1386 1099.2,1384.6 1101.4,1384.6 1102,1381.3 1104.1,1381.3 1104.7,1379.1 1106.9,1379.1 1107.4,1380.5 1109.6,1380.5 1110.2,1381.7 1112.2,1381.7 1112.8,1379.6 1114.8,1379.6 1115.4,1380.9 1117.5,1380.9 1118,1382.1 1120.1,1382.1 1120.6,1379.2 1122.7,1379.2 1123.2,1382.4 1125.3,1382.4 1125.8,1380.3 1127.9,1380.3 1128.4,1383.5 1130.5,1383.5 1131,1381.7 1133.1,1381.7 1133.6,1381.8 1135.7,1381.8 1136.3,1384.7 1138.3,1384.7 1138.9,1383.2 1141,1383.2 1141.5,1384.1 1143.6,1384.1 1144.1,1382.3 1146.2,1382.3 1146.7,1384.4 1148.8,1384.4 1149.3,1384.5 1151.4,1384.5 1151.9,1379.9 1154,1379.9 1154.5,1384.8 1156.6,1384.8 1157.1,1381.9 1159.2,1381.9 1159.7,1383.1 1161.8,1383.1 1162.4,1380.4 1164.4,1380.4 1165,1386.2 1167.1,1386.2 1167.6,1385.5 1169.7,1385.5 1170.2,1383.6 1172.3,1383.6 1172.8,1381 1174.9,1381 1175.4,1386.7 1177.5,1386.7 1178,1384 1180.1,1384 1180.6,1385.3 1182.7,1385.3 1183.2,1383.9 1185.4,1383.9 1185.9,1381.8 1188,1381.8 1188.5,1383.5 1190.6,1383.5 1191.2,1381.4 1193.3,1381.4 1193.8,1383.1 1195.9,1383.1 1196.4,1380.1 1198.6,1380.1 1199.1,1379.9 1201.2,1379.9 1201.7,1382.5 1203.8,1382.5 1204.4,1384.3 1206.5,1384.3 1207,1375.4 1209.2,1375.4 1209.8,1371.3 1211.9,1371.3 1212.4,1380.1 1214.2,1380.1 1214.7,1378.5 1216.5,1378.5 1217,1379.8 1219.1,1379.8 1219.7,1381.4 1221.8,1381.4 1222.3,1381.9 1224.4,1381.9 1224.9,1379.5 1227,1379.5 1227.5,1384.7 1229.7,1384.7 1230.2,1380.4 1232.3,1380.4 1232.8,1381.7 1234.9,1381.7 1235.4,1385.3 1237.5,1385.3 1238.1,1381.7 1240.3,1381.7 1240.8,1381.4 1243,1381.4 1243.6,1382.8 1245.8,1382.8 1246.3,1375.9 1248.5,1375.9 1253.1,1369.5 1253.5,1370.7 1255.3,1370.7 1255.8,1369.5 1257.6,1369.5 1261.3,1379.6 1261.8,1380.5 1263.8,1380.5 1264.4,1379.4 1266.4,1379.4 1266.9,1380.4 1269,1380.4 1269.5,1382.1 1271.5,1382.1 1272,1384.1 1274.1,1384.1 1274.6,1384.1 1276.7,1384.1 1277.2,1382.8 1279.3,1382.8 1279.8,1381.1 1281.9,1381.1 1282.4,1386.6 1284.5,1386.6 1285,1385.7 1287,1385.7 1287.6,1380.8 1289.6,1380.8 1290.2,1383.5 1292.2,1383.5 1292.8,1383.4 1294.8,1383.4 1295.3,1383.3 1297.4,1383.3 1297.9,1385.2 1300,1385.2 1300.5,1380.8 1302.6,1380.8 1303.1,1386.7 1305.2,1386.7 1305.7,1385.4 1307.7,1385.4 1308.2,1381.8 1310.3,1381.8 1310.8,1382.2 1312.9,1382.2 1313.4,1384.2 1315.4,1384.2 1315.9,1382.5 1318,1382.5 1318.5,1383.4 1320.6,1383.4 1321.1,1382.5 1323.1,1382.5 1323.6,1383.4 1325.7,1383.4 1326.2,1388.1 1328.3,1388.1 1328.8,1382.5 1330.8,1382.5 1331.3,1383.4 1333.4,1383.4 1333.9,1388.1 1336,1388.1 1336.5,1386.4 1338.5,1386.4 1339.1,1384.2 1341.1,1384.2 1341.6,1386.4 1343.7,1386.4 1344.2,1383.4 1346.3,1383.4 1346.8,1386.6 1348.8,1386.6 1349.3,1387.5 1351.4,1387.5 1351.9,1387.7 1354,1387.7 1354.5,1385.8 1356.5,1385.8 1357,1387.1 1359.1,1387.1 1359.6,1386.1 1361.7,1386.1 1362.2,1386.2 1364.2,1386.2 1364.8,1387.5 1366.8,1387.5 1367.3,1388.4 1369.4,1388.4 1369.9,1384.6 1371.9,1384.6 1372.5,1385.6 1374.5,1385.6 1375,1384.1 1377.1,1384.1 1377.6,1388.6 1379.7,1388.6 1380.2,1384.5 1382.2,1384.5 1382.7,1385.1 1384.8,1385.1 1385.3,1383.2 1387.4,1383.2 1387.9,1386.9 1389.9,1386.9 1390.5,1388.4 1392.5,1388.4 1393,1387.4 1395.1,1387.4 1395.6,1382.4 1397.6,1382.4 1398.2,1387 1400.2,1387 1400.7,1382 1402.8,1382 1403.3,1385.7 1405.4,1385.7 1405.9,1387.2 1407.9,1387.2 1408.4,1385.8 1410.4,1385.8 1411,1386.9 1413,1386.9 1413.5,1387.2 1415.5,1387.2 1416,1388.3 1418,1388.3 1418.5,1383 1420.5,1383 1421,1386.1 1423.1,1386.1 1423.6,1386.4 1425.6,1386.4 1426.1,1386.6 1428.1,1386.6 1428.6,1385 1430.6,1385 1431.1,1389.2 1433.2,1389.2 1433.7,1387.5 1435.7,1387.5 1436.2,1389 1438.1,1389 1438.6,1385.5 1440.6,1385.5 1441.1,1383.4 1443.1,1383.4 1443.6,1386.9 1445.5,1386.9 1446,1386.4 1448,1386.4 1448.8,1380.7 1451.7,1380.7 1453.3,1285.1 1453.7,1280.1 1455.7,1280.1 1456.3,1086.2 1457.9,1152.5 1459.7,1349.9 1460.3,1355.7 1462.8,1355.7 1465,1379.1 1465.4,1377.2 1467,1377.2 1467.4,1381.1 1469,1381.1 1469.4,1373.6 1471.2,1373.6 1471.7,1373.1 1473.5,1373.1 1474,1366.4 1475.8,1366.4 1476.3,1361.4 1478.3,1361.4 1478.8,1362.9 1480.9,1362.9 1481.4,1354.9 1483.5,1354.9 1484,1354 1486,1354 1486.6,1353.9 1488.6,1353.9 1489.1,1347.1 1491.2,1347.1 1491.7,1350 1493.8,1350 1494.3,1352 1496.3,1352 1496.8,1358 1498.9,1358 1499.5,1358.8 1502,1358.8 1502.6,1360.9 1505.1,1360.9 1505.6,1364.1 1507.8,1364.1 1508.3,1360.2 1510.5,1360.2 1511,1358.6 1513.2,1358.6 1513.7,1358.7 1515.8,1358.7 1516.4,1363.7 1518.5,1363.7 1519,1361.1 1521.1,1361.1 1521.7,1361.3 1523.8,1361.3 1524.3,1359.6 1526.4,1359.6 1527,1358.9 1529.1,1358.9 1529.6,1362 1531.7,1362 1532.2,1360.2 1534.4,1360.2 1534.9,1360.4 1536.9,1360.4 1537.4,1359.8 1539.4,1359.8 1539.9,1363.9 1542,1363.9 1542.5,1361.8 1544.5,1361.8 1545,1361.2 1547.1,1361.2 1547.6,1363.3 1549.6,1363.3 1550.1,1362.4 1552.2,1362.4 1552.7,1363.7 1554.7,1363.7" fill="none" stroke="#0000ff" stroke-width="8.6" stroke-linejoin="round" stroke-linecap="butt"/>
<polyline points="661,1589 661.5,1588.2 663.8,1588.2 664.3,1587.9 666.5,1587.9 667,1585.8 669.2,1585.8 669.8,1587 672,1587 672.6,1587 675,1587 675.6,1587 678,1587 678.6,1588.6 681,1588.6 681.6,1587.8 684,1587.8 684.6,1588.4 687,1588.4 687.6,1588.5 690,1588.5 690.6,1583 693,1583 693.4,1582.7 695,1582.7 695.4,1580.3 697,1580.3 697.4,1584 699,1584 699.4,1586 701,1586 701.5,1587.1 703.6,1587.1 704.1,1587.9 706.1,1587.9 706.6,1587.3 708.7,1587.3 709.2,1587 711.3,1587 711.8,1588.1 713.8,1588.1 714.3,1587.1 716.4,1587.1 716.9,1586.9 719,1586.9 719.5,1587.3 721.5,1587.3 722,1588.8 724.1,1588.8 724.6,1587.5 726.7,1587.5 727.2,1587.6 729.2,1587.6 729.7,1587.1 731.8,1587.1 732.3,1587.2 734.3,1587.2 734.9,1588.2 736.9,1588.2 737.4,1588.3 739.5,1588.3 740,1588 742,1588 742.6,1588.1 744.6,1588.1 745.1,1588.6 747.2,1588.6 747.7,1589 749.7,1589 750.3,1588.7 752.3,1588.7 752.8,1588.8 754.9,1588.8 755.4,1588.5 757.4,1588.5 757.9,1589 760,1589 760.5,1589.7 762.7,1589.7 763.2,1589 765.3,1589 765.8,1588.1 768,1588.1 768.5,1589.5 770.6,1589.5 771.1,1589.8 773.3,1589.8 773.8,1588.7 775.9,1588.7 776.4,1588.7 778.6,1588.7 779.1,1589.1 781.2,1589.1 781.8,1588.5 783.9,1588.5 784.4,1589.6 786.5,1589.6 787.1,1589.2 789.2,1589.2 789.7,1588.2 791.8,1588.2 792.4,1589.6 794.5,1589.6 795,1588.6 797.1,1588.6 797.8,1589.2 800.6,1589.2 801.2,1587.3 804,1587.3 804.6,1582.7 807.1,1582.7 807.4,1420.8 808.8,1461.1 810,1548.5 810.7,1553.8 813.4,1553.8 814.3,1557 815.1,1581 815.8,1583 818.6,1583 819,1580.3 820.7,1580.3 821.1,1583.8 822.8,1583.8 823.5,1577 826.3,1577 828.8,1567.3 830.5,1555.3 831.1,1551.6 833.1,1551.6 833.8,1552.5 836.5,1552.5 839.1,1567.3 840,1570.7 840.5,1570.9 842.5,1570.9 843.1,1568.4 845.1,1568.4 845.6,1572.5 847.7,1572.5 848.2,1573.6 850.3,1573.6 850.8,1565.8 852.8,1565.8 853.3,1567.6 855.4,1567.6 855.9,1564.6 858,1564.6 858.5,1563.3 860.5,1563.3 861,1560.2 863.1,1560.2 863.6,1567.5 865.7,1567.5 866.2,1564.9 868.2,1564.9 868.8,1569.6 870.8,1569.6 871.3,1569.4 873.4,1569.4 873.9,1566.2 876,1566.2 876.4,1566 878.1,1566 878.5,1566.7 880.2,1566.7 881.1,1533 881.6,1532.4 883.7,1532.4 884.2,1420.8 885.4,1461.1 886.2,1529.6 886.9,1532.4 889.7,1532.4 891.4,1539.9 891.9,1541.6 893.9,1541.6 894.8,1557 895.5,1563.3 898.2,1563.3 898.7,1555.1 900.4,1555.1 900.8,1554.7 902.5,1554.7 903.2,1548.5 905.9,1548.5 907.7,1522.8 908.3,1517.4 911.1,1517.4 911.8,1524.7 914.5,1524.7 915.4,1533 918.8,1539.9 919.5,1543.1 922.2,1543.1 922.7,1545.9 924.8,1545.9 925.3,1547.9 927.4,1547.9 927.9,1544.4 929.9,1544.4 930.4,1538.8 932.5,1538.8 933,1538.9 935.1,1538.9 935.6,1535.6 937.6,1535.6 938.2,1535.8 940.2,1535.8 940.7,1539.9 942.8,1539.9 943.3,1543.6 945.4,1543.6 945.9,1545 947.9,1545 948.4,1544.8 950.5,1544.8 951,1544.8 953.1,1544.8 953.7,1543.5 956.1,1543.5 956.7,1542.5 959.1,1542.5 959.7,1547 962.1,1547 962.7,1544.8 965.1,1544.8 965.5,1543.6 967.5,1543.6 967.9,1545 969.9,1545 970.3,1549.4 972.3,1549.4 972.7,1545.1 974.7,1545.1 975.1,1548.5 977.1,1548.5 977.6,1549.7 979.6,1549.7 980.1,1548.6 982.2,1548.6 982.7,1551.5 984.7,1551.5 985.2,1550.8 987.3,1550.8 987.8,1547.8 989.8,1547.8 990.3,1546.2 992.4,1546.2 992.9,1546.3 994.9,1546.3 995.4,1552 997.5,1552 998,1550.4 1000,1550.4 1000.6,1550.5 1002.8,1550.5 1003.3,1550.6 1005.5,1550.6 1006,1551.8 1008.2,1551.8 1008.8,1556 1011,1556 1011.5,1551.8 1013.4,1551.8 1013.9,1552.3 1015.8,1552.3 1016.3,1555.1 1018.3,1555.1 1018.7,1555.6 1020.6,1555.6 1021,1554.8 1022.8,1554.8 1023.3,1554.5 1025.1,1554.5 1025.6,1560.6 1027.4,1560.6 1027.9,1558.7 1029.9,1558.7 1030.4,1557.7 1032.4,1557.7 1032.9,1561.7 1034.9,1561.7 1035.4,1557.9 1037.4,1557.9 1037.9,1561.9 1039.9,1561.9 1040.4,1561.9 1042.4,1561.9 1042.9,1560.3 1044.8,1560.3 1045.3,1562.1 1047.3,1562.1 1047.8,1559.4 1049.8,1559.4 1050.3,1559.5 1052.3,1559.5 1052.8,1562.4 1054.8,1562.4 1055.4,1561.4 1057.6,1561.4 1058.1,1558.2 1060.3,1558.2 1060.8,1557.3 1063,1557.3 1063.6,1561.1 1065.8,1561.1 1066.3,1557.9 1068.5,1557.9 1069.1,1561.7 1071.3,1561.7 1071.8,1559.9 1074,1559.9 1074.5,1557.5 1076.7,1557.5 1077.2,1553.5 1079,1553.5 1079.5,1555 1081.3,1555 1083.1,1526.7 1083.7,1525.8 1085.9,1525.8 1086.4,1526 1088.6,1526 1089.5,1554.1 1092.3,1561.4 1092.8,1558.3 1094.8,1558.3 1095.3,1560.2 1097.3,1560.2 1097.8,1555.2 1099.8,1555.2 1100.3,1556.8 1102.3,1556.8 1102.8,1557.8 1104.9,1557.8 1105.4,1556.6 1107.4,1556.6 1107.9,1559.3 1110,1559.3 1110.5,1556.4 1112.6,1556.4 1113.1,1556.4 1115.1,1556.4 1115.6,1557.4 1117.7,1557.4 1118.2,1555.1 1120.2,1555.1 1120.7,1553.3 1122.8,1553.3 1123.3,1558.8 1125.3,1558.8 1125.9,1555.9 1127.9,1555.9 1128.4,1557.5 1130.5,1557.5 1131,1556.9 1133.1,1556.9 1133.6,1560.3 1135.7,1560.3 1136.3,1558 1138.3,1558 1138.9,1559.6 1141,1559.6 1141.5,1560.2 1143.6,1560.2 1144.1,1559.6 1146.2,1559.6 1146.7,1560.7 1148.8,1560.7 1149.3,1561.6 1151.4,1561.6 1151.9,1560.9 1154,1560.9 1154.5,1558.7 1156.6,1558.7 1157.1,1562.7 1159.2,1562.7 1159.7,1561.1 1161.8,1561.1 1162.4,1561.1 1164.4,1561.1 1165,1559 1167.1,1559 1167.6,1559 1169.7,1559 1170.2,1560.2 1172.3,1560.2 1172.8,1561.4 1174.9,1561.4 1175.4,1563.1 1177.5,1563.1 1178,1560.4 1180.1,1560.4 1180.6,1558.5 1182.7,1558.5 1183.2,1562.4 1185.3,1562.4 1185.8,1559.3 1187.9,1559.3 1188.5,1562.4 1190.5,1562.4 1191.1,1560.5 1193.2,1560.5 1193.7,1560.5 1195.8,1560.5 1196.3,1557.7 1198.4,1557.7 1198.9,1560.5 1201,1560.5 1201.5,1559.3 1203.6,1559.3 1204.1,1563.3 1206.2,1563.3 1206.7,1559.3 1208.8,1559.3 1209.3,1560.5 1211.4,1560.5 1211.9,1559.3 1214,1559.3 1214.6,1557.7 1216.6,1557.7 1217.2,1563.3 1219.3,1563.3 1219.8,1560.5 1221.9,1560.5 1222.4,1559.3 1224.5,1559.3 1225,1557.7 1227.1,1557.7 1227.6,1559.3 1229.7,1559.3 1230.2,1558.5 1232.3,1558.5 1232.8,1561.6 1234.9,1561.6 1235.4,1559.3 1237.5,1559.3 1238.1,1563.3 1240.1,1563.3 1240.7,1560.5 1242.8,1560.5 1243.3,1557.7 1245.4,1557.7 1245.9,1562.4 1248,1562.4 1248.5,1563.3 1250.6,1563.3 1251.1,1561.6 1253.2,1561.6 1253.7,1562.4 1255.8,1562.4 1256.3,1559 1258.5,1559 1259.1,1561.4 1261.3,1561.4 1261.8,1561.8 1264,1561.8 1264.6,1563.4 1266.8,1563.4 1267.3,1560 1269.5,1560 1270.1,1564.3 1272.2,1564.3 1272.8,1565.6 1275,1565.6 1275.5,1564.1 1277.7,1564.1 1278.2,1565.9 1280.2,1565.9 1280.7,1561.8 1282.7,1561.8 1283.2,1564.6 1285.2,1564.6 1285.7,1560.5 1287.6,1560.5 1288.1,1563.1 1290.1,1563.1 1290.6,1560.9 1292.6,1560.9 1293.1,1562.7 1295.1,1562.7 1295.6,1563.6 1297.5,1563.6 1298,1562.3 1300,1562.3 1300.5,1563.4 1302.6,1563.4 1303.1,1561.1 1305.2,1561.1 1305.7,1564.1 1307.7,1564.1 1308.2,1564.1 1310.3,1564.1 1310.8,1563.2 1312.9,1563.2 1313.4,1564.8 1315.4,1564.8 1315.9,1560.7 1318,1560.7 1318.5,1560.6 1320.6,1560.6 1321.1,1563.5 1323.1,1563.5 1323.6,1564.2 1325.7,1564.2 1326.2,1561.2 1328.3,1561.2 1328.8,1560 1330.8,1560 1331.3,1559 1333.4,1559 1333.9,1561.9 1336,1561.9 1336.5,1557.8 1338.5,1557.8 1339.1,1562.4 1341.1,1562.4 1341.6,1558.3 1343.7,1558.3 1344.2,1561.3 1346.3,1561.3 1346.8,1559.2 1348.8,1559.2 1349.3,1561.7 1351.4,1561.7 1351.9,1562.7 1354,1562.7 1354.5,1562.9 1356.5,1562.9 1357,1563.1 1359.1,1563.1 1359.6,1561.4 1361.7,1561.4 1362.2,1564.4 1364.2,1564.4 1364.8,1561.8 1366.8,1561.8 1367.3,1564.8 1369.4,1564.8 1369.9,1564.2 1371.9,1564.2 1372.5,1564.4 1374.5,1564.4 1375,1561.5 1377.1,1561.5 1377.6,1562.5 1379.7,1562.5 1380.2,1562.4 1382.2,1562.4 1382.7,1565 1384.8,1565 1385.3,1562.1 1387.4,1562.1 1387.9,1563.9 1389.9,1563.9 1390.5,1559.1 1392.5,1559.1 1393,1562.8 1395.1,1562.8 1395.6,1561.6 1397.6,1561.6 1398.2,1564.3 1400.2,1564.3 1400.7,1561.3 1402.8,1561.3 1403.3,1560.1 1405.4,1560.1 1405.9,1563.9 1407.9,1563.9 1408.4,1558.4 1410.4,1558.4 1411,1559.4 1413,1559.4 1413.5,1564.3 1415.5,1564.3 1416,1561.6 1418,1561.6 1418.5,1561.8 1420.5,1561.8 1421,1559.1 1423.1,1559.1 1423.6,1560.9 1425.6,1560.9 1426.1,1564.2 1428.1,1564.2 1428.6,1559.5 1430.6,1559.5 1431.1,1565.3 1433.2,1565.3 1433.7,1562.6 1435.7,1562.6 1436.2,1562.1 1438.2,1562.1 1438.8,1564.4 1440.8,1564.4 1441.3,1558.3 1443.4,1558.3 1443.9,1560.6 1446,1560.6 1446.5,1562.9 1448.5,1562.9 1449,1559.5 1451.1,1559.5 1453.6,1547.2 1455.7,1522.5 1457.3,1278.9 1459.1,1368.4 1460.3,1522.5 1461,1524.5 1463.4,1524.5 1465,1559.5 1465.4,1561.1 1467,1561.1 1467.4,1562.6 1469,1562.6 1469.4,1562.3 1471.2,1562.3 1471.7,1559.3 1473.5,1559.3 1474,1551.4 1475.8,1551.4 1476.2,1549 1478.1,1549 1478.5,1549.2 1480.4,1549.2 1480.9,1548.7 1482.7,1548.7 1483.2,1547.2 1485,1547.2 1485.5,1547.1 1487.6,1547.1 1488.1,1544.7 1490.2,1544.7 1490.7,1540.7 1492.7,1540.7 1493.2,1548.1 1495.3,1548.1 1495.8,1548.1 1497.9,1548.1 1498.4,1549.9 1500.4,1549.9 1500.9,1549.2 1502.7,1549.2 1503.2,1549 1505.1,1549 1505.5,1550.6 1507.4,1550.6 1507.8,1554.9 1509.7,1554.9 1510.2,1557.8 1512.3,1557.8 1512.9,1553.2 1515,1553.2 1515.5,1555.3 1517.6,1555.3 1518.1,1552.6 1520.3,1552.6 1520.8,1557.5 1522.9,1557.5 1523.4,1557.7 1525.5,1557.7 1526.1,1558.6 1528.2,1558.6 1528.7,1557.9 1530.8,1557.9 1531.4,1558.9 1533.5,1558.9 1534,1558.2 1536.1,1558.2 1536.7,1556.3 1538.8,1556.3 1539.3,1556.5 1541.4,1556.5 1542,1559.4 1544.1,1559.4 1544.6,1554.7 1546.7,1554.7 1547.3,1556.8 1549.4,1556.8 1549.9,1554.1 1552.1,1554.1 1552.6,1559 1554.7,1559" fill="none" stroke="#ff0000" stroke-width="8.6" stroke-linejoin="round" stroke-linecap="butt"/>
<rect x="1045" y="905" width="499" height="100.5" fill="none" stroke="#000000" stroke-width="1.6"/>
<line x1="1043" y1="937" x2="1109.5" y2="937" stroke="#0000ff" stroke-width="8" stroke-linecap="round"/>
<line x1="1043" y1="986.6" x2="1109.5" y2="986.6" stroke="#ff0000" stroke-width="8" stroke-linecap="round"/>
<text x="1117" y="946" font-family='"Liberation Serif","DejaVu Serif",serif' font-size="39" font-weight="bold" fill="#000000" text-anchor="start" textLength="426" lengthAdjust="spacing">mixed ion bombarded Si</text>
<text x="1118" y="995.2" font-family='"Liberation Serif","DejaVu Serif",serif' font-size="39" font-weight="bold" fill="#000000" text-anchor="start" textLength="156" lengthAdjust="spacing">Virgin Si</text>
<text transform="translate(689,1056) scale(0.860,1)" font-family='"Liberation Serif","DejaVu Serif",serif' font-size="35" font-weight="bold" fill="#ff0000" text-anchor="start" textLength="823.3" lengthAdjust="spacing">Survey Scan of Virgin and ion bombarded Si</text>
<text x="730.5" y="1000.4" font-family='"Liberation Serif","DejaVu Serif",serif' font-size="66" font-weight="bold" fill="#000000" text-anchor="start" textLength="79" lengthAdjust="spacing">(c)</text>
<text transform="translate(817.6,1309) rotate(-90)" font-family='"Liberation Serif","DejaVu Serif",serif' font-size="40" font-weight="bold" fill="#000080" text-anchor="start" textLength="78" lengthAdjust="spacingAndGlyphs" stroke="#000080" stroke-width="0.7" stroke-linejoin="round">Si 2p</text>
<text transform="translate(900.6,1288) rotate(-90)" font-family='"Liberation Serif","DejaVu Serif",serif' font-size="40" font-weight="bold" fill="#000080" text-anchor="start" textLength="71" lengthAdjust="spacingAndGlyphs" stroke="#000080" stroke-width="0.7" stroke-linejoin="round">Si 2s</text>
<text transform="translate(1070.7,1354) rotate(-90)" font-family='"Liberation Serif","DejaVu Serif",serif' font-size="44" font-weight="normal" fill="#000080" text-anchor="start" textLength="66" lengthAdjust="spacing" stroke="#000080" stroke-width="0.5" stroke-linejoin="round">C1s</text>
<text transform="translate(1274.2,1346.5) rotate(-90)" font-family='"Liberation Serif","DejaVu Serif",serif' font-size="42" font-weight="bold" fill="#000080" text-anchor="start" textLength="66" lengthAdjust="spacingAndGlyphs" stroke="#000080" stroke-width="0.5" stroke-linejoin="round">N1s</text>
<text transform="translate(1431.5,1161) rotate(-90)" font-family='"Liberation Serif","DejaVu Serif",serif' font-size="42" font-weight="bold" fill="#000080" text-anchor="start" textLength="66" lengthAdjust="spacingAndGlyphs" stroke="#000080" stroke-width="0.5" stroke-linejoin="round">O1s</text>
<text transform="translate(587.7,1484.5) rotate(-90)" font-family='"Liberation Serif","DejaVu Serif",serif' font-size="47" font-weight="bold" fill="#000000" text-anchor="start" textLength="381" lengthAdjust="spacing">Counts (arb. unit)</text>
<text x="901" y="1735" font-family='"Liberation Sans","DejaVu Sans",sans-serif' font-size="39.5" font-weight="bold" fill="#000000" text-anchor="start" textLength="458" lengthAdjust="spacingAndGlyphs">Binding Energy (eV)</text>
</g>
</svg>
</body></html>
